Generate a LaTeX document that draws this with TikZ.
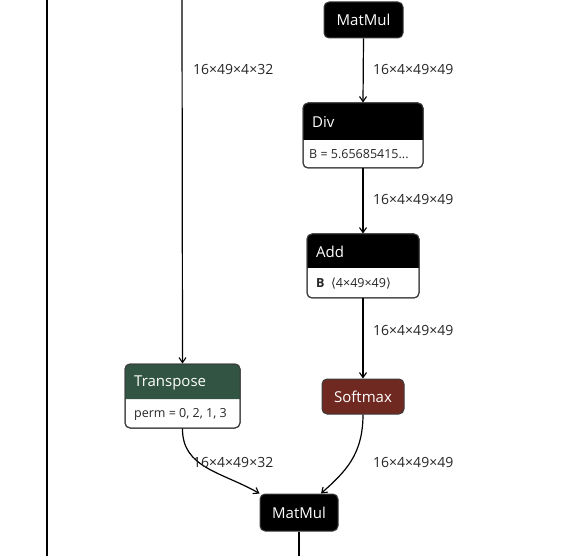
\documentclass[tikz,border=0pt]{standalone}
\usepackage{fontspec}
\setmainfont{Open Sans}
\newfontfamily\symfont{DejaVu Sans}
\usetikzlibrary{arrows.meta}
\definecolor{sfred}{RGB}{112,41,33}
\definecolor{trgreen}{RGB}{50,84,66}
\definecolor{bord}{RGB}{60,60,60}
\tikzset{
  x=1pt, y=-1pt,
  edge/.style={line width=1.2pt, -{Straight Barb[length=5pt,width=7pt,line width=1.1pt]}},
  plain/.style={line width=1.2pt},
  lbl/.style={anchor=west, font=\fontsize{14}{16}\selectfont, text=black!85, inner sep=0pt},
  htxt/.style={anchor=west, font=\fontsize{15}{17}\selectfont, text=white, inner sep=0pt},
  btxt/.style={anchor=west, font=\fontsize{12.5}{14}\selectfont, text=black!85, inner sep=0pt},
  ctxt/.style={font=\fontsize{15}{17}\selectfont, text=white, inner sep=0pt},
  frame/.style={draw=bord, line width=1pt, rounded corners=5pt, fill=white, inner sep=0pt},
}
\begin{document}
\begin{tikzpicture}
\useasboundingbox (0,0) rectangle (568,556);
% left long line
\coordinate (lt) at (47,0);
\coordinate (lb) at (47,556);
\draw[plain] (lt) -- (lb);

% MatMul top
\node[frame, fill=black, minimum width=79pt, minimum height=36pt] (mm1) at (363.5,20) {};
\node[ctxt] (mm1t) at (mm1.center) {MatMul};

% Div
\node[frame, minimum width=120pt, minimum height=65pt] (div) at (363,135.5) {};
\fill[black] (303,140) [rounded corners=5pt] -- (303,103) -- (423,103) [sharp corners] -- (423,140) -- cycle;
\draw[bord, line width=1pt, rounded corners=5pt] (303,103) rectangle (423,168);
\node[htxt] (divh) at (312,122) {Div};
\node[btxt] (divb) at (309,154) {B = 5.65685415...};

% Add
\node[frame, minimum width=112pt, minimum height=64pt] (add) at (363,266) {};
\fill[black] (307,268) [rounded corners=5pt] -- (307,234) -- (419,234) [sharp corners] -- (419,268) -- cycle;
\draw[bord, line width=1pt, rounded corners=5pt] (307,234) rectangle (419,298);
\node[htxt] (addh) at (316,252) {Add};
\node[btxt] (addb) at (316,284) {\textbf{B}\ \ {\symfont ⟨}4×49×49{\symfont ⟩}};

% Softmax
\node[frame, fill=sfred, minimum width=82pt, minimum height=35pt] (sm) at (363,396.5) {};
\node[ctxt] (smt) at (sm.center) {Softmax};

% Transpose
\node[frame, minimum width=115pt, minimum height=64pt] (tr) at (182.5,396) {};
\fill[trgreen] (125,399) [rounded corners=5pt] -- (125,364) -- (240,364) [sharp corners] -- (240,399) -- cycle;
\draw[bord, line width=1pt, rounded corners=5pt] (125,364) rectangle (240,428);
\node[htxt] (trh) at (134,383) {Transpose};
\node[btxt] (trb) at (134,414) {perm = 0, 2, 1, 3};

% MatMul bottom
\node[frame, fill=black, minimum width=78pt, minimum height=37pt] (mm2) at (299,512.5) {};
\node[ctxt] (mm2t) at (mm2.center) {MatMul};

% connectors
\coordinate (ttop) at (182,0);
\draw[edge] (ttop) -- (tr.north);
\draw[edge] (mm1.south) -- (div.north);
\draw[edge] (div.south) -- (add.north);
\draw[edge] (add.south) -- (sm.north);
\draw[edge] (tr.south) .. controls (182,468) and (222,472) .. (mm2.north west) ;
\draw[edge] (sm.south) .. controls (363,455) and (345,472) .. ([xshift=22pt]mm2.north);
\coordinate (mmout) at (299,556);
\draw[plain] (mm2.south) -- (mmout);

% labels
\node[lbl] (l1) at (193,70) {16×49×4×32};
\node[lbl] (l2) at (373,70) {16×4×49×49};
\node[lbl] (l3) at (373,200) {16×4×49×49};
\node[lbl] (l4) at (373,330) {16×4×49×49};
\node[lbl] (l5) at (193,462) {16×4×49×32};
\node[lbl] (l6) at (373,462) {16×4×49×49};
\end{tikzpicture}
\end{document}
